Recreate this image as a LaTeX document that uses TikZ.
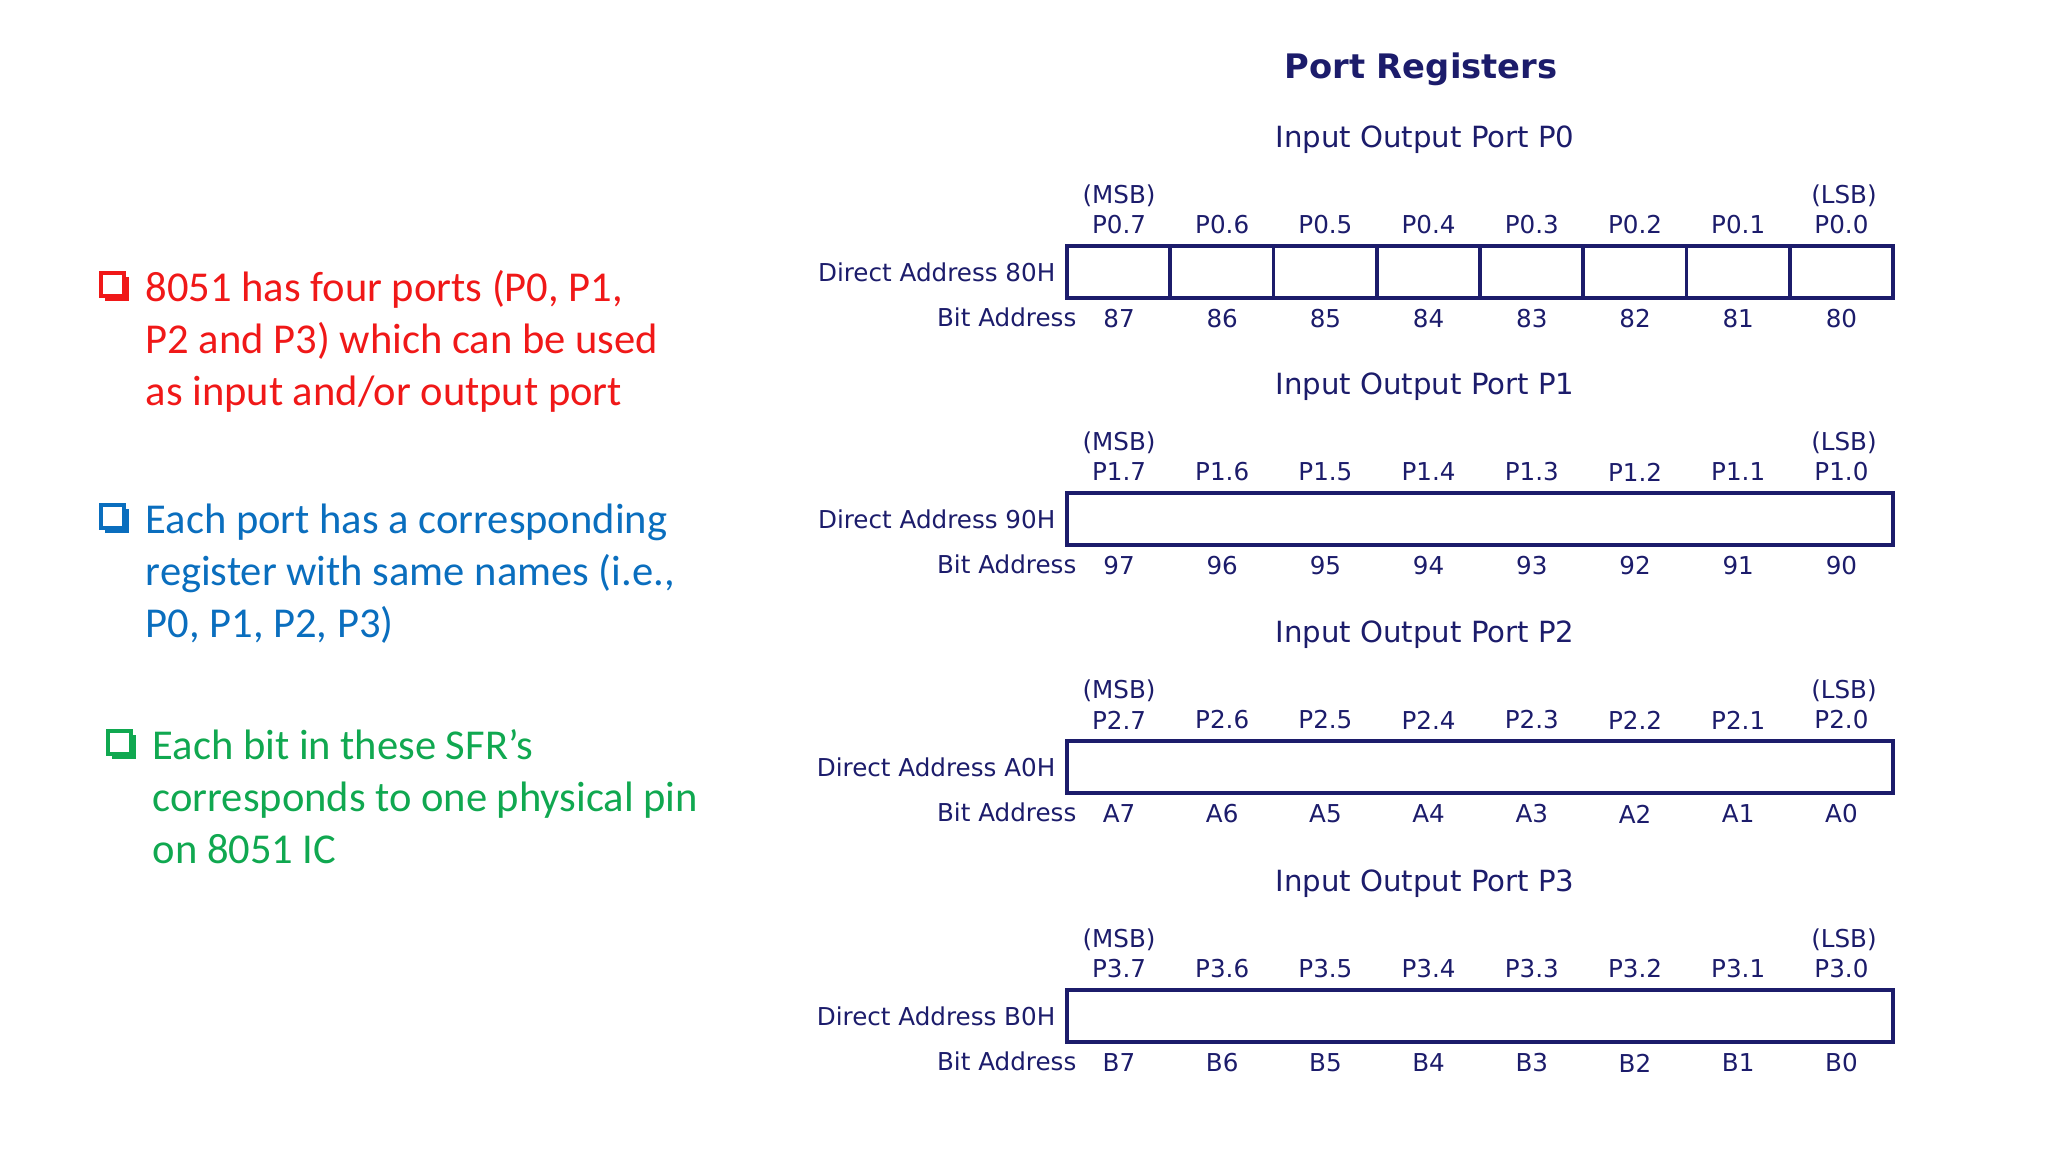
\documentclass[tikz,border=0pt]{standalone}
\usepackage{fontspec}
\setmainfont{DejaVu Sans}
\newfontfamily\calfont{Carlito}
\definecolor{navy}{HTML}{1C1C6B}
\definecolor{bred}{HTML}{F01818}
\definecolor{bblue}{HTML}{0A6EBE}
\definecolor{bgreen}{HTML}{10A850}
\begin{document}
\begin{tikzpicture}[x=0.01cm,y=-0.01cm,
  reg/.style={text=navy,font=\fontsize{7pt}{8pt}\selectfont,inner sep=0pt},
  ptitle/.style={text=navy,font=\fontsize{8.3pt}{9pt}\selectfont,inner sep=0pt},
  cellbox/.style={draw=navy,line width=1.1pt},
  bul/.style={font=\calfont\fontsize{12.1pt}{14.8pt}\selectfont,align=left,anchor=north west,inner sep=0pt}]
\useasboundingbox (0,0) rectangle (2048,1152);
\node[text=navy,font=\fontsize{9.6pt}{12pt}\selectfont\bfseries,inner sep=0pt] (title) at (1421,69) {Port Registers};
\foreach \p/\ad/\hi/\full in {0/80H/8/1,1/90H/9/0,2/A0H/A/0,3/B0H/B/0}{
  \pgfmathsetmacro{\yb}{{246,493,741,990}[\p]}
  \node[ptitle] (t\p) at (1425,\yb-106) {Input Output Port P\p};
  \node[reg] (m\p) at (1119,\yb-50) {(MSB)};
  \node[reg] (l\p) at (1844,\yb-50) {(LSB)};
  \node[reg,anchor=east] (d\p) at (1056,\yb+26) {Direct Address \ad};
  \node[reg,anchor=east] (b\p) at (1077,\yb+71) {Bit Address};
  \coordinate (tl\p) at (1067,\yb);
  \coordinate (br\p) at (1893,\yb+52);
  \draw[cellbox] (tl\p) rectangle (br\p);
  \ifnum\full=1
    \foreach \k in {1,...,7}{
      \coordinate (s\k) at (1067+103.25*\k,\yb);
      \draw[cellbox] (s\k) -- ++(0,52);
    }
  \fi
  \foreach \k in {0,...,7}{
    \pgfmathtruncatemacro{\bit}{7-\k}
    \node[reg] (n\p\k) at (1119+103.2*\k,\yb-21) {P\p.\bit};
    \node[reg] (a\p\k) at (1119+103.2*\k,\yb+73) {\hi\bit};
  }
}
% bullets
\foreach \n/\c/\x/\y in {1/bred/101/273,2/bblue/101/505,3/bgreen/108/731}{
  \fill[\c] (\x+4,\y+4) rectangle (\x+28,\y+28);
  \draw[\c,line width=1.2pt,fill=white] (\x,\y) rectangle (\x+23,\y+23);
}
\node[bul,text=bred] (t1) at (145,270) {8051 has four ports (P0, P1,\\P2 and P3) which can be used\\as input and/or output port};
\node[bul,text=bblue] (t2) at (145,503) {Each port has a corresponding\\register with same names (i.e.,\\P0, P1, P2, P3)};
\node[bul,text=bgreen] (t3) at (152,729) {Each bit in these SFR’s\\corresponds to one physical pin\\on 8051 IC};
\end{tikzpicture}
\end{document}
